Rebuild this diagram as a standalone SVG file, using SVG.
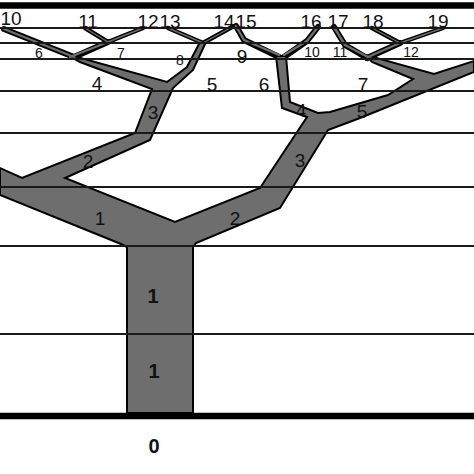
<svg xmlns="http://www.w3.org/2000/svg" width="474" height="474" viewBox="0 0 474 474">
<style>
.bg{fill:#fff}
.body{fill:#6e6e6e;stroke:#000;stroke-width:2;stroke-linejoin:miter}
.tb{fill:none;stroke:#000;stroke-width:6;stroke-linejoin:round;stroke-linecap:round}
.tg{fill:none;stroke:#6e6e6e;stroke-width:2.4;stroke-linejoin:round;stroke-linecap:round}
.tbs{fill:none;stroke:#000;stroke-width:4.5;stroke-linejoin:round;stroke-linecap:round}
.tgs{fill:none;stroke:#6e6e6e;stroke-width:1.4;stroke-linejoin:round;stroke-linecap:round}
.h{stroke:#1a1a1a;stroke-width:2}
.hk{stroke:#000;stroke-width:6.5}
text{font-family:"Liberation Sans",Arial,sans-serif;fill:#111;text-anchor:middle}
.t{font-size:19px}
.m{font-size:19px}
.s{font-size:14px}
.b{font-size:20px;font-weight:bold}
</style>
<rect class="bg" x="0" y="0" width="474" height="474"/>
<g id="tree">
  <g id="tubes-under">
    <polyline class="tb" points="74,57 4,29"/>
    <polyline class="tb" points="74,57 108,42"/>
    <polyline class="tbs" points="108,42 85,28"/>
    <polyline class="tbs" points="108,42 143,28"/>
    <polyline class="tbs" points="203,43 168,28"/>
    <polyline class="tbs" points="203,43 232,27"/>
    <polyline class="tb" points="279,57 244,40 236,26"/>
    <polyline class="tb" points="284,57 307,41 318,27"/>
    <polyline class="tb" points="367,58 345,45 334,27"/>
    <polyline class="tb" points="367,58 400,43"/>
    <polyline class="tbs" points="400,43 372,28"/>
    <polyline class="tbs" points="400,43 443,28"/>
  </g>
  <polygon id="stem" class="body" points="127,413 127,247 121,244 0,195 0,168 22,178 135,133 152,89 80,62 71,57 70,55 167,82 187,67 200,42 206,42 193,70 173,88 150,140 65,178 175,222 260,188 307,117 282,108 276,56 286,56 290,102 318,113 330,112 388,95 413,79 372,62 366,55 434,74 474,61 474,72 360,118 328,130 280,208 196,243 193,247 193,413"/>
  <g id="tubes-over">
    <polyline class="tg" points="74,57 4,29"/>
    <polyline class="tg" points="70,57 108,42"/>
    <polyline class="tgs" points="108,42 85,28"/>
    <polyline class="tgs" points="108,42 143,28"/>
    <polyline class="tgs" points="203,43 168,28"/>
    <polyline class="tgs" points="203,43 232,27"/>
    <polyline class="tg" points="279,55 244,40 236,26"/>
    <polyline class="tg" points="284,55 307,41 318,27"/>
    <polyline class="tg" points="368,57 345,45 334,27"/>
    <polyline class="tg" points="368,57 400,43"/>
    <polyline class="tgs" points="400,43 372,28"/>
    <polyline class="tgs" points="400,43 443,28"/>
  </g>
</g>
<g id="grid">
  <line class="hk" x1="0" y1="5.5" x2="474" y2="5.5"/>
  <line class="h" x1="0" y1="28" x2="474" y2="28"/>
  <line class="h" x1="0" y1="43" x2="474" y2="43"/>
  <line class="h" x1="0" y1="59" x2="474" y2="59"/>
  <line class="h" x1="0" y1="91" x2="474" y2="91"/>
  <line class="h" x1="0" y1="133" x2="474" y2="133"/>
  <line class="h" x1="0" y1="187" x2="474" y2="187"/>
  <line class="h" x1="0" y1="246" x2="474" y2="246"/>
  <line class="h" x1="0" y1="334" x2="474" y2="334"/>
  <line class="hk" x1="0" y1="416" x2="474" y2="416"/>
</g>
<g id="labels">
  <text class="t" x="11" y="25">10</text>
  <text class="t" x="88" y="28">11</text>
  <text class="t" x="148" y="28">12</text>
  <text class="t" x="170" y="28">13</text>
  <text class="t" x="224" y="28">14</text>
  <text class="t" x="246" y="28">15</text>
  <text class="t" x="311" y="28">16</text>
  <text class="t" x="338" y="28">17</text>
  <text class="t" x="373" y="28">18</text>
  <text class="t" x="438" y="28">19</text>
  <text class="s" x="39" y="58">6</text>
  <text class="s" x="121" y="58">7</text>
  <text class="s" x="180" y="65">8</text>
  <text class="m" x="242" y="63">9</text>
  <text class="s" x="312" y="57">10</text>
  <text class="s" x="340" y="57">11</text>
  <text class="s" x="411" y="57">12</text>
  <text class="m" x="97" y="90">4</text>
  <text class="m" x="212" y="91">5</text>
  <text class="m" x="264" y="91">6</text>
  <text class="m" x="363" y="91">7</text>
  <text class="m" x="153" y="119">3</text>
  <text class="m" x="88" y="168">2</text>
  <text class="m" x="301" y="117">4</text>
  <text class="m" x="362" y="118">5</text>
  <text class="m" x="300" y="167">3</text>
  <text class="m" x="100" y="225">1</text>
  <text class="m" x="235" y="225">2</text>
  <text class="b" x="153" y="303">1</text>
  <text class="b" x="154" y="378">1</text>
  <text class="b" x="154" y="453">0</text>
</g>
</svg>
